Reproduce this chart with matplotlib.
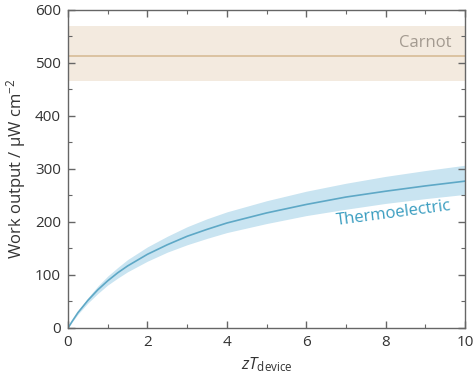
import matplotlib
matplotlib.use("Agg")
import matplotlib.pyplot as plt
from matplotlib.ticker import MultipleLocator

# --- data ---
zt = [0, 0.1, 0.25, 0.5, 0.75, 1, 1.25, 1.5, 2, 2.5, 3, 3.5, 4, 5, 6, 7, 8, 9, 10]
te_mid = [0, 12, 29, 52, 72, 89, 104, 117, 139, 157, 173, 186, 198, 217, 233, 247, 258, 268, 277]
te_upper = [0, 13, 31, 57, 79, 98, 114, 129, 153, 173, 191, 206, 219, 240, 258, 273, 286, 297, 307]
te_lower = [0, 11, 26, 47, 65, 81, 94, 106, 126, 143, 157, 169, 180, 197, 212, 224, 235, 244, 252]

carnot_mid = 513
carnot_low = 465
carnot_high = 570

plt.rcParams['font.family'] = ['Open Sans', 'DejaVu Sans']
plt.rcParams['mathtext.fontset'] = 'custom'
plt.rcParams['mathtext.rm'] = 'Open Sans'
plt.rcParams['mathtext.it'] = 'Open Sans:italic'

txt = '#333333'
spine = '#666666'

fig = plt.figure(figsize=(4.74, 3.82), dpi=100)
ax = fig.add_axes([0.1435, 0.1414, 0.8375, 0.8326])

# carnot band + line
ax.axhspan(carnot_low, carnot_high, color='#f3eadf', lw=0)
ax.axhline(carnot_mid, color='#d9bf9c', lw=1.3)

# thermoelectric band + line
ax.fill_between(zt, te_lower, te_upper, color='#c9e4f1', lw=0)
ax.plot(zt, te_mid, color='#5ea8c6', lw=1.2)

ax.text(9.65, 537, 'Carnot', color='#a39a90', fontsize=12, ha='right', va='center')
ax.text(8.2, 216, 'Thermoelectric', color='#3a9dc0', fontsize=12,
        ha='center', va='center', rotation=7.5)

ax.set_xlim(0, 10)
ax.set_ylim(0, 600)
ax.xaxis.set_major_locator(MultipleLocator(2))
ax.xaxis.set_minor_locator(MultipleLocator(1))
ax.yaxis.set_major_locator(MultipleLocator(100))
ax.yaxis.set_minor_locator(MultipleLocator(50))

for s in ax.spines.values():
    s.set_color(spine)
    s.set_linewidth(1.0)
ax.tick_params(which='both', direction='in', top=True, right=True,
               color=spine, labelcolor=txt, labelsize=11)
ax.tick_params(which='major', length=5, width=1, pad=5)
ax.tick_params(which='minor', length=3, width=0.8)

ax.set_xlabel(r'$zT_{\mathrm{device}}$', fontsize=12, color=txt, labelpad=4)
ax.set_ylabel('Work output / μW cm$^{-2}$', fontsize=12, color=txt, labelpad=5)

fig.savefig('out.png', dpi=100)
